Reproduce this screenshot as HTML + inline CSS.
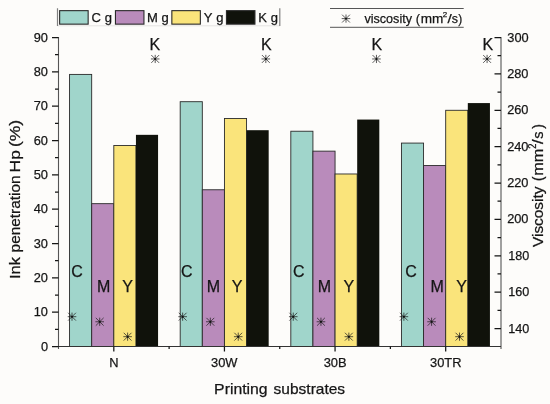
<!DOCTYPE html>
<html><head><meta charset="utf-8"><title>Ink penetration</title>
<style>html,body{margin:0;padding:0;background:#fdfcfa;}svg{display:block;font-family:"Liberation Sans",Arial,sans-serif;}text{fill:#151515;stroke:#151515;stroke-width:0.25px}.t text{stroke-width:0.25px}</style></head><body>
<svg width="550" height="404" viewBox="0 0 550 404">
<rect width="550" height="404" fill="#fdfcfa"/>
<rect x="69.56" y="74.41" width="22.12" height="272.09" fill="#a0d5cb" stroke="#2a2a2a" stroke-width="0.9"/>
<rect x="91.69" y="203.67" width="22.12" height="142.83" fill="#b98bbb" stroke="#2a2a2a" stroke-width="0.9"/>
<rect x="113.81" y="145.48" width="22.12" height="201.02" fill="#fae47b" stroke="#2a2a2a" stroke-width="0.9"/>
<rect x="135.94" y="134.84" width="22.12" height="211.66" fill="#10120b" stroke="none" stroke-width="0.9"/>
<rect x="180.19" y="101.70" width="22.12" height="244.80" fill="#a0d5cb" stroke="#2a2a2a" stroke-width="0.9"/>
<rect x="202.31" y="189.77" width="22.12" height="156.73" fill="#b98bbb" stroke="#2a2a2a" stroke-width="0.9"/>
<rect x="224.44" y="118.53" width="22.12" height="227.97" fill="#fae47b" stroke="#2a2a2a" stroke-width="0.9"/>
<rect x="246.56" y="130.20" width="22.12" height="216.30" fill="#10120b" stroke="none" stroke-width="0.9"/>
<rect x="290.81" y="131.23" width="22.12" height="215.27" fill="#a0d5cb" stroke="#2a2a2a" stroke-width="0.9"/>
<rect x="312.94" y="151.14" width="22.12" height="195.36" fill="#b98bbb" stroke="#2a2a2a" stroke-width="0.9"/>
<rect x="335.06" y="173.98" width="22.12" height="172.52" fill="#fae47b" stroke="#2a2a2a" stroke-width="0.9"/>
<rect x="357.19" y="119.56" width="22.12" height="226.94" fill="#10120b" stroke="none" stroke-width="0.9"/>
<rect x="401.44" y="143.08" width="22.12" height="203.42" fill="#a0d5cb" stroke="#2a2a2a" stroke-width="0.9"/>
<rect x="423.56" y="165.56" width="22.12" height="180.94" fill="#b98bbb" stroke="#2a2a2a" stroke-width="0.9"/>
<rect x="445.69" y="110.29" width="22.12" height="236.21" fill="#fae47b" stroke="#2a2a2a" stroke-width="0.9"/>
<rect x="467.81" y="103.08" width="22.12" height="243.42" fill="#10120b" stroke="none" stroke-width="0.9"/>
<path d="M58.5 37.0V349.0M501.0 37.0V349.0" stroke="#555" stroke-width="1.1" fill="none"/>
<path d="M52.0 346.5H501.0" stroke="#333" stroke-width="1.1" fill="none"/>
<path d="M52.0 346.50H58.5M55.0 329.33H58.5M52.0 312.17H58.5M55.0 295.00H58.5M52.0 277.83H58.5M55.0 260.67H58.5M52.0 243.50H58.5M55.0 226.33H58.5M52.0 209.17H58.5M55.0 192.00H58.5M52.0 174.83H58.5M55.0 157.67H58.5M52.0 140.50H58.5M55.0 123.33H58.5M52.0 106.17H58.5M55.0 89.00H58.5M52.0 71.83H58.5M55.0 54.67H58.5M52.0 37.50H58.5M494.5 328.50H501.0M494.5 292.12H501.0M494.5 255.75H501.0M494.5 219.38H501.0M494.5 183.00H501.0M494.5 146.62H501.0M494.5 110.25H501.0M494.5 73.88H501.0M494.5 37.50H501.0M497.5 310.31H501.0M497.5 273.94H501.0M497.5 237.56H501.0M497.5 201.19H501.0M497.5 164.81H501.0M497.5 128.44H501.0M497.5 92.06H501.0M497.5 55.69H501.0M113.81 346.5V351.5M224.44 346.5V351.5M169.12 346.5V349.0M335.06 346.5V351.5M279.75 346.5V349.0M445.69 346.5V351.5M390.38 346.5V349.0" stroke="#151515" stroke-width="1.25" fill="none"/>
<text x="40.89" y="350.50" font-size="13.5px" textLength="7.09" lengthAdjust="spacingAndGlyphs">0</text>
<text x="33.78" y="316.17" font-size="13.5px" textLength="14.20" lengthAdjust="spacingAndGlyphs">10</text>
<text x="33.77" y="281.83" font-size="13.5px" textLength="14.22" lengthAdjust="spacingAndGlyphs">20</text>
<text x="33.76" y="247.50" font-size="13.5px" textLength="14.23" lengthAdjust="spacingAndGlyphs">30</text>
<text x="33.75" y="213.17" font-size="13.5px" textLength="14.24" lengthAdjust="spacingAndGlyphs">40</text>
<text x="33.66" y="178.83" font-size="13.5px" textLength="14.33" lengthAdjust="spacingAndGlyphs">50</text>
<text x="33.77" y="144.50" font-size="13.5px" textLength="14.22" lengthAdjust="spacingAndGlyphs">60</text>
<text x="33.77" y="110.17" font-size="13.5px" textLength="14.22" lengthAdjust="spacingAndGlyphs">70</text>
<text x="33.76" y="75.83" font-size="13.5px" textLength="14.22" lengthAdjust="spacingAndGlyphs">80</text>
<text x="33.76" y="41.50" font-size="13.5px" textLength="14.22" lengthAdjust="spacingAndGlyphs">90</text>
<text x="508.27" y="332.50" font-size="13.5px" textLength="21.02" lengthAdjust="spacingAndGlyphs">140</text>
<text x="508.27" y="296.12" font-size="13.5px" textLength="21.02" lengthAdjust="spacingAndGlyphs">160</text>
<text x="508.27" y="259.75" font-size="13.5px" textLength="21.02" lengthAdjust="spacingAndGlyphs">180</text>
<text x="507.14" y="223.38" font-size="13.5px" textLength="21.35" lengthAdjust="spacingAndGlyphs">200</text>
<text x="507.14" y="187.00" font-size="13.5px" textLength="21.35" lengthAdjust="spacingAndGlyphs">220</text>
<text x="507.14" y="150.62" font-size="13.5px" textLength="21.35" lengthAdjust="spacingAndGlyphs">240</text>
<text x="507.14" y="114.25" font-size="13.5px" textLength="21.35" lengthAdjust="spacingAndGlyphs">260</text>
<text x="507.14" y="77.88" font-size="13.5px" textLength="21.35" lengthAdjust="spacingAndGlyphs">280</text>
<text x="507.33" y="41.50" font-size="13.5px" textLength="21.36" lengthAdjust="spacingAndGlyphs">300</text>
<text x="109.20" y="366.8" font-size="13.5px" textLength="9.27" lengthAdjust="spacingAndGlyphs">N</text>
<text x="210.99" y="366.8" font-size="13.5px" textLength="26.47" lengthAdjust="spacingAndGlyphs">30W</text>
<text x="323.69" y="366.8" font-size="13.5px" textLength="22.95" lengthAdjust="spacingAndGlyphs">30B</text>
<text x="430.01" y="366.8" font-size="13.5px" textLength="31.45" lengthAdjust="spacingAndGlyphs">30TR</text>
<g class="t">
<text><tspan x="214.14" y="394.0" font-size="15px" textLength="53.47" lengthAdjust="spacingAndGlyphs">Printing</tspan> <tspan x="273.59" y="394.0" font-size="15px" textLength="71.53" lengthAdjust="spacingAndGlyphs">substrates</tspan></text>
<g transform="translate(20.0 277.5) rotate(-90)">
<text><tspan x="-1.54" y="0" font-size="15px" textLength="21.95" lengthAdjust="spacingAndGlyphs">Ink</tspan> <tspan x="25.08" y="0" font-size="15px" textLength="76.91" lengthAdjust="spacingAndGlyphs">penetration</tspan> <tspan x="105.11" y="0" font-size="15px" textLength="22.28" lengthAdjust="spacingAndGlyphs">Hp</tspan> <tspan x="130.45" y="0" font-size="15px" textLength="27.23" lengthAdjust="spacingAndGlyphs">(%)</tspan></text>
</g>
<g transform="translate(543.3 246.9) rotate(-90)">
<text><tspan x="-0.10" y="0" font-size="15px" textLength="60.41" lengthAdjust="spacingAndGlyphs">Viscosity</tspan> <tspan x="65.87" y="0" font-size="15px" textLength="4.62" lengthAdjust="spacingAndGlyphs">(</tspan><tspan x="71.06" y="0" font-size="15px" textLength="27.22" lengthAdjust="spacingAndGlyphs">mm</tspan><tspan x="98.23" y="-7.6" font-size="10px" textLength="5.20" lengthAdjust="spacingAndGlyphs">2</tspan><tspan x="102.90" y="0" font-size="15px" textLength="4.66" lengthAdjust="spacingAndGlyphs">/</tspan><tspan x="108.21" y="0" font-size="15px" textLength="7.27" lengthAdjust="spacingAndGlyphs">s</tspan><tspan x="118.11" y="0" font-size="15px" textLength="4.68" lengthAdjust="spacingAndGlyphs">)</tspan></text>
</g>
</g>
<text x="71.15" y="276.8" font-size="16px">C</text>
<text x="180.95" y="276.8" font-size="16px">C</text>
<text x="292.95" y="276.8" font-size="16px">C</text>
<text x="405.15" y="276.8" font-size="16px">C</text>
<text x="97.05" y="292" font-size="16px">M</text>
<text x="206.85" y="292" font-size="16px">M</text>
<text x="317.85" y="292" font-size="16px">M</text>
<text x="430.55" y="292" font-size="16px">M</text>
<text x="122.15" y="292.4" font-size="16px">Y</text>
<text x="231.85" y="292.4" font-size="16px">Y</text>
<text x="343.45" y="292.4" font-size="16px">Y</text>
<text x="456.15" y="292.4" font-size="16px">Y</text>
<text x="149.40" y="50.4" font-size="16px">K</text>
<text x="260.90" y="50.4" font-size="16px">K</text>
<text x="371.40" y="50.4" font-size="16px">K</text>
<text x="482.40" y="50.4" font-size="16px">K</text>
<g transform="translate(72.01 316.68)"><path d="M-4.3 0H4.3M0 -4.1V4.1M-3.9 -3.9L3.9 3.9M3.9 -3.9L-3.9 3.9" stroke="#1c1c1c" stroke-width="0.72" fill="none"/><circle r="0.95" fill="#111"/></g>
<g transform="translate(99.71 321.77)"><path d="M-4.3 0H4.3M0 -4.1V4.1M-3.9 -3.9L3.9 3.9M3.9 -3.9L-3.9 3.9" stroke="#1c1c1c" stroke-width="0.72" fill="none"/><circle r="0.95" fill="#111"/></g>
<g transform="translate(127.61 336.68)"><path d="M-4.3 0H4.3M0 -4.1V4.1M-3.9 -3.9L3.9 3.9M3.9 -3.9L-3.9 3.9" stroke="#1c1c1c" stroke-width="0.72" fill="none"/><circle r="0.95" fill="#111"/></g>
<g transform="translate(155.21 58.96)"><path d="M-4.3 0H4.3M0 -4.1V4.1M-3.9 -3.9L3.9 3.9M3.9 -3.9L-3.9 3.9" stroke="#1c1c1c" stroke-width="0.72" fill="none"/><circle r="0.95" fill="#111"/></g>
<g transform="translate(182.64 316.68)"><path d="M-4.3 0H4.3M0 -4.1V4.1M-3.9 -3.9L3.9 3.9M3.9 -3.9L-3.9 3.9" stroke="#1c1c1c" stroke-width="0.72" fill="none"/><circle r="0.95" fill="#111"/></g>
<g transform="translate(210.34 321.77)"><path d="M-4.3 0H4.3M0 -4.1V4.1M-3.9 -3.9L3.9 3.9M3.9 -3.9L-3.9 3.9" stroke="#1c1c1c" stroke-width="0.72" fill="none"/><circle r="0.95" fill="#111"/></g>
<g transform="translate(238.24 336.68)"><path d="M-4.3 0H4.3M0 -4.1V4.1M-3.9 -3.9L3.9 3.9M3.9 -3.9L-3.9 3.9" stroke="#1c1c1c" stroke-width="0.72" fill="none"/><circle r="0.95" fill="#111"/></g>
<g transform="translate(265.84 58.96)"><path d="M-4.3 0H4.3M0 -4.1V4.1M-3.9 -3.9L3.9 3.9M3.9 -3.9L-3.9 3.9" stroke="#1c1c1c" stroke-width="0.72" fill="none"/><circle r="0.95" fill="#111"/></g>
<g transform="translate(293.26 316.68)"><path d="M-4.3 0H4.3M0 -4.1V4.1M-3.9 -3.9L3.9 3.9M3.9 -3.9L-3.9 3.9" stroke="#1c1c1c" stroke-width="0.72" fill="none"/><circle r="0.95" fill="#111"/></g>
<g transform="translate(320.96 321.77)"><path d="M-4.3 0H4.3M0 -4.1V4.1M-3.9 -3.9L3.9 3.9M3.9 -3.9L-3.9 3.9" stroke="#1c1c1c" stroke-width="0.72" fill="none"/><circle r="0.95" fill="#111"/></g>
<g transform="translate(348.86 336.68)"><path d="M-4.3 0H4.3M0 -4.1V4.1M-3.9 -3.9L3.9 3.9M3.9 -3.9L-3.9 3.9" stroke="#1c1c1c" stroke-width="0.72" fill="none"/><circle r="0.95" fill="#111"/></g>
<g transform="translate(376.46 58.96)"><path d="M-4.3 0H4.3M0 -4.1V4.1M-3.9 -3.9L3.9 3.9M3.9 -3.9L-3.9 3.9" stroke="#1c1c1c" stroke-width="0.72" fill="none"/><circle r="0.95" fill="#111"/></g>
<g transform="translate(403.89 316.68)"><path d="M-4.3 0H4.3M0 -4.1V4.1M-3.9 -3.9L3.9 3.9M3.9 -3.9L-3.9 3.9" stroke="#1c1c1c" stroke-width="0.72" fill="none"/><circle r="0.95" fill="#111"/></g>
<g transform="translate(431.59 321.77)"><path d="M-4.3 0H4.3M0 -4.1V4.1M-3.9 -3.9L3.9 3.9M3.9 -3.9L-3.9 3.9" stroke="#1c1c1c" stroke-width="0.72" fill="none"/><circle r="0.95" fill="#111"/></g>
<g transform="translate(459.49 336.68)"><path d="M-4.3 0H4.3M0 -4.1V4.1M-3.9 -3.9L3.9 3.9M3.9 -3.9L-3.9 3.9" stroke="#1c1c1c" stroke-width="0.72" fill="none"/><circle r="0.95" fill="#111"/></g>
<g transform="translate(487.09 58.96)"><path d="M-4.3 0H4.3M0 -4.1V4.1M-3.9 -3.9L3.9 3.9M3.9 -3.9L-3.9 3.9" stroke="#1c1c1c" stroke-width="0.72" fill="none"/><circle r="0.95" fill="#111"/></g>
<path d="M57.5 25.8H280" stroke="#e4e3e1" stroke-width="1" fill="none"/>
<path d="M57.5 8.3V26M279.8 8.3V26" stroke="#808080" stroke-width="1.2" fill="none"/>
<rect x="59.65" y="10.65" width="28.5" height="13.5" fill="#a0d5cb" stroke="#2a2a2a" stroke-width="1.1"/>
<text><tspan x="91.60" y="22" font-size="13px">C</tspan> <tspan x="104.75" y="22" font-size="13px">g</tspan></text>
<rect x="115.45" y="10.65" width="28.5" height="13.5" fill="#b98bbb" stroke="#2a2a2a" stroke-width="1.1"/>
<text><tspan x="146.95" y="22" font-size="13px">M</tspan> <tspan x="161.55" y="22" font-size="13px">g</tspan></text>
<rect x="171.85" y="10.65" width="28.5" height="13.5" fill="#fae47b" stroke="#2a2a2a" stroke-width="1.1"/>
<text><tspan x="203.75" y="22" font-size="13px">Y</tspan> <tspan x="216.15" y="22" font-size="13px">g</tspan></text>
<rect x="226.45" y="10.65" width="28.5" height="13.5" fill="#10120b" stroke="#2a2a2a" stroke-width="1.1"/>
<text><tspan x="258.20" y="22" font-size="13px">K</tspan> <tspan x="270.75" y="22" font-size="13px">g</tspan></text>
<path d="M330 8.5H463.7M330 27.3H463.7" stroke="#555" stroke-width="1" fill="none"/>
<g transform="translate(346.00 18.60)"><path d="M-4.3 0H4.3M0 -4.1V4.1M-3.9 -3.9L3.9 3.9M3.9 -3.9L-3.9 3.9" stroke="#1c1c1c" stroke-width="0.72" fill="none"/><circle r="0.95" fill="#111"/></g>
<text><tspan x="364.41" y="22.7" font-size="13.5px" textLength="47.60" lengthAdjust="spacingAndGlyphs">viscosity</tspan> <tspan x="415.84" y="22.7" font-size="13.5px" textLength="4.25" lengthAdjust="spacingAndGlyphs">(</tspan><tspan x="420.70" y="22.7" font-size="13.5px" textLength="22.60" lengthAdjust="spacingAndGlyphs">mm</tspan><tspan x="442.80" y="16.5" font-size="8px" textLength="4.45" lengthAdjust="spacingAndGlyphs">2</tspan><tspan x="447.40" y="22.7" font-size="13.5px" textLength="4.26" lengthAdjust="spacingAndGlyphs">/</tspan><tspan x="451.83" y="22.7" font-size="13.5px" textLength="6.18" lengthAdjust="spacingAndGlyphs">s</tspan><tspan x="458.31" y="22.7" font-size="13.5px" textLength="4.00" lengthAdjust="spacingAndGlyphs">)</tspan></text>
</svg></body></html>
